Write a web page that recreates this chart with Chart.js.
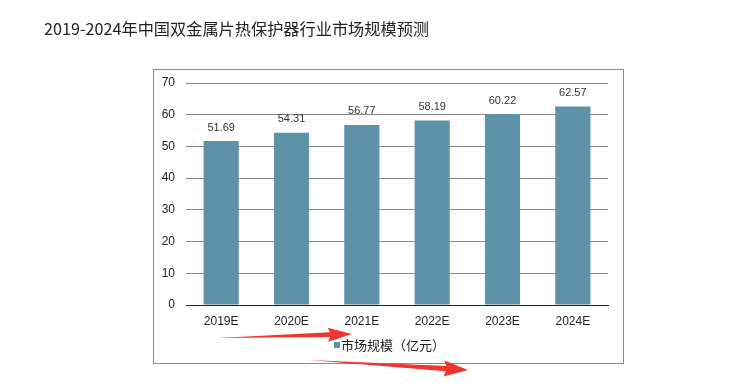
<!DOCTYPE html>
<html>
<head>
<meta charset="utf-8">
<script src="https://cdn.jsdelivr.net/npm/chart.js@4/dist/chart.umd.min.js"></script>
<style>
  html, body { margin: 0; padding: 0; background: #fff; }
  #wrap { position: relative; width: 740px; height: 392px; }
  #title {
    position: absolute; left: 44px; top: 16px;
    font-family: "Noto Sans CJK SC", sans-serif; font-size: 16.2px; color: #222;
    white-space: nowrap;
  }
  canvas { position: absolute; left: 0; top: 0; }
</style>
</head>
<body>
<div id="wrap">
  <canvas id="chart" width="740" height="392"></canvas>
  <div id="title">2019-2024年中国双金属片热保护器行业市场规模预测</div>
</div>
<script>
const years = ["2019E", "2020E", "2021E", "2022E", "2023E", "2024E"];
const marketSize = [51.69, 54.31, 56.77, 58.19, 60.22, 62.57];
const seriesName = "市场规模（亿元）";
const yTicks = [0, 10, 20, 30, 40, 50, 60, 70];

const barColor = "#5e92a8";
const textFont = '"Liberation Sans", Arial, sans-serif';

// outer frame of the chart + the red arrows drawn over the image
const framePlugin = {
  id: "frame",
  beforeDraw(chart) {
    const ctx = chart.ctx;
    ctx.save();
    ctx.strokeStyle = "#8c8c8c";
    ctx.lineWidth = 1;
    ctx.strokeRect(153.5, 69.5, 470, 294);
    ctx.restore();
  },
  afterDraw(chart) {
    const ctx = chart.ctx;
    function arrow(x1, y1, x2, y2, headLen, headW, tailW) {
      const ang = Math.atan2(y2 - y1, x2 - x1);
      const len = Math.hypot(x2 - x1, y2 - y1);
      ctx.save();
      ctx.translate(x1, y1);
      ctx.rotate(ang);
      ctx.fillStyle = "#f0352f";
      ctx.beginPath();
      ctx.moveTo(0, 0);
      ctx.lineTo(len - headLen, -tailW);
      ctx.lineTo(len - headLen - 2, -headW);
      ctx.lineTo(len, 0);
      ctx.lineTo(len - headLen - 2, headW);
      ctx.lineTo(len - headLen, tailW);
      ctx.closePath();
      ctx.fill();
      ctx.restore();
    }
    arrow(217, 338, 352, 334, 22, 7, 2.4);
    arrow(309, 360, 468, 370, 22, 8, 2.6);
  }
};

// value labels above each bar + legend under the axis
const valueLabels = {
  id: "valueLabels",
  afterDatasetsDraw(chart) {
    const ctx = chart.ctx;
    const meta = chart.getDatasetMeta(0);
    ctx.save();
    ctx.font = "11px " + textFont;
    ctx.fillStyle = "#333";
    ctx.textAlign = "center";
    ctx.textBaseline = "bottom";
    meta.data.forEach((bar, i) => {
      ctx.fillText(marketSize[i].toFixed(2), bar.x, bar.y - 8);
    });

    // legend
    const ds = chart.data.datasets[0];
    ctx.font = '13px "Noto Sans CJK SC", sans-serif';
    const tw = ctx.measureText(ds.label).width;
    const x0 = 390 - (tw + 8) / 2;
    const cy = chart.chartArea.bottom + 40;
    ctx.fillStyle = ds.backgroundColor;
    ctx.fillRect(x0, cy - 3, 6, 6);
    ctx.fillStyle = "#222";
    ctx.textAlign = "left";
    ctx.textBaseline = "middle";
    ctx.fillText(ds.label, x0 + 7, cy);
    ctx.restore();
  }
};

new Chart(document.getElementById("chart"), {
  type: "bar",
  data: {
    labels: years,
    datasets: [{
      label: seriesName,
      data: marketSize,
      backgroundColor: barColor,
      categoryPercentage: 1,
      barPercentage: 0.5
    }]
  },
  options: {
    responsive: false,
    animation: false,
    layout: { padding: { left: 153, right: 132, top: 83, bottom: 64 } },
    plugins: {
      tooltip: { enabled: false },
      legend: { display: false }
    },
    scales: {
      x: {
        grid: { display: false, drawTicks: false },
        border: { color: "#222" },
        afterFit(scale) { scale.height = 23; },
        ticks: { color: "#222", padding: 9, font: { family: textFont, size: 12 } }
      },
      y: {
        min: 0, max: 70,
        afterBuildTicks(scale) { scale.ticks = yTicks.map(v => ({ value: v })); },
        afterFit(scale) { scale.width = 33; },
        grid: { color: "#8a8a8a", drawTicks: false },
        border: { display: false },
        ticks: { color: "#222", padding: 11, font: { family: textFont, size: 12 } }
      }
    }
  },
  plugins: [framePlugin, valueLabels]
});
</script>
</body>
</html>
